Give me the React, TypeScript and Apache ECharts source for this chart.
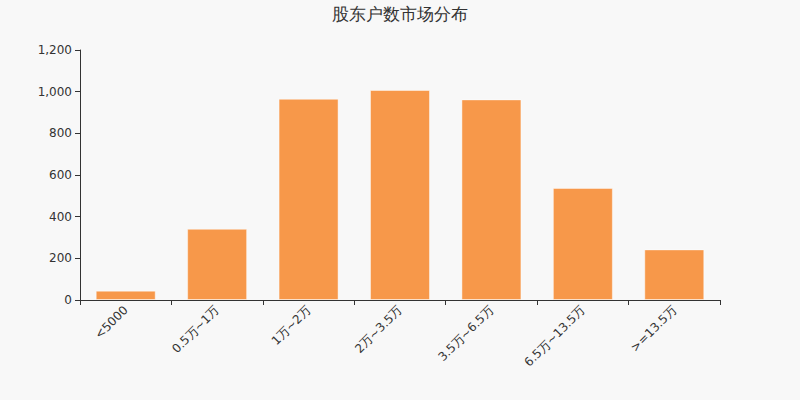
import * as echarts from "echarts";
import { useEffect, useRef } from "react";

const INK = "#333333";
const BAR = "#f7984a";
const FONT = "DejaVu Sans";

const categories = ["<5000", "0.5万~1万", "1万~2万", "2万~3.5万", "3.5万~6.5万", "6.5万~13.5万", ">=13.5万"];
const holders = [45, 342, 966, 1008, 963, 538, 243];

export default function App() {
  const ref = useRef<HTMLDivElement>(null);

  useEffect(() => {
    document.body.style.margin = "0";
    const el = ref.current;
    if (!el) return;
    const chart = echarts.init(el, undefined, { renderer: "svg" });
    chart.setOption({
      animation: false,
      backgroundColor: "#f8f8f8",
      textStyle: { fontFamily: FONT },
      title: {
        text: "股东户数市场分布",
        left: "center",
        top: 0,
        textStyle: { color: INK, fontSize: 17, fontWeight: "normal", fontFamily: FONT },
      },
      grid: { left: 80, right: 80, top: 50, bottom: 100 },
      xAxis: {
        type: "category",
        data: categories,
        axisLine: { show: true, lineStyle: { color: INK } },
        axisTick: { show: true, length: 5, lineStyle: { color: INK } },
        axisLabel: { color: INK, fontSize: 12, rotate: 45, interval: 0, fontFamily: FONT },
      },
      yAxis: {
        type: "value",
        min: 0,
        max: 1200,
        interval: 200,
        axisLine: { show: true, lineStyle: { color: INK } },
        axisTick: { show: true, lineStyle: { color: INK } },
        axisLabel: { color: INK, fontSize: 12, fontFamily: FONT },
        splitLine: { show: false },
      },
      series: [
        {
          type: "bar",
          data: holders,
          barWidth: 60,
          itemStyle: { color: BAR, borderColor: "rgba(255,255,255,0.45)", borderWidth: 1 },
        },
      ],
    });
    return () => chart.dispose();
  }, []);

  return <div ref={ref} style={{ width: 800, height: 400 }} />;
}
